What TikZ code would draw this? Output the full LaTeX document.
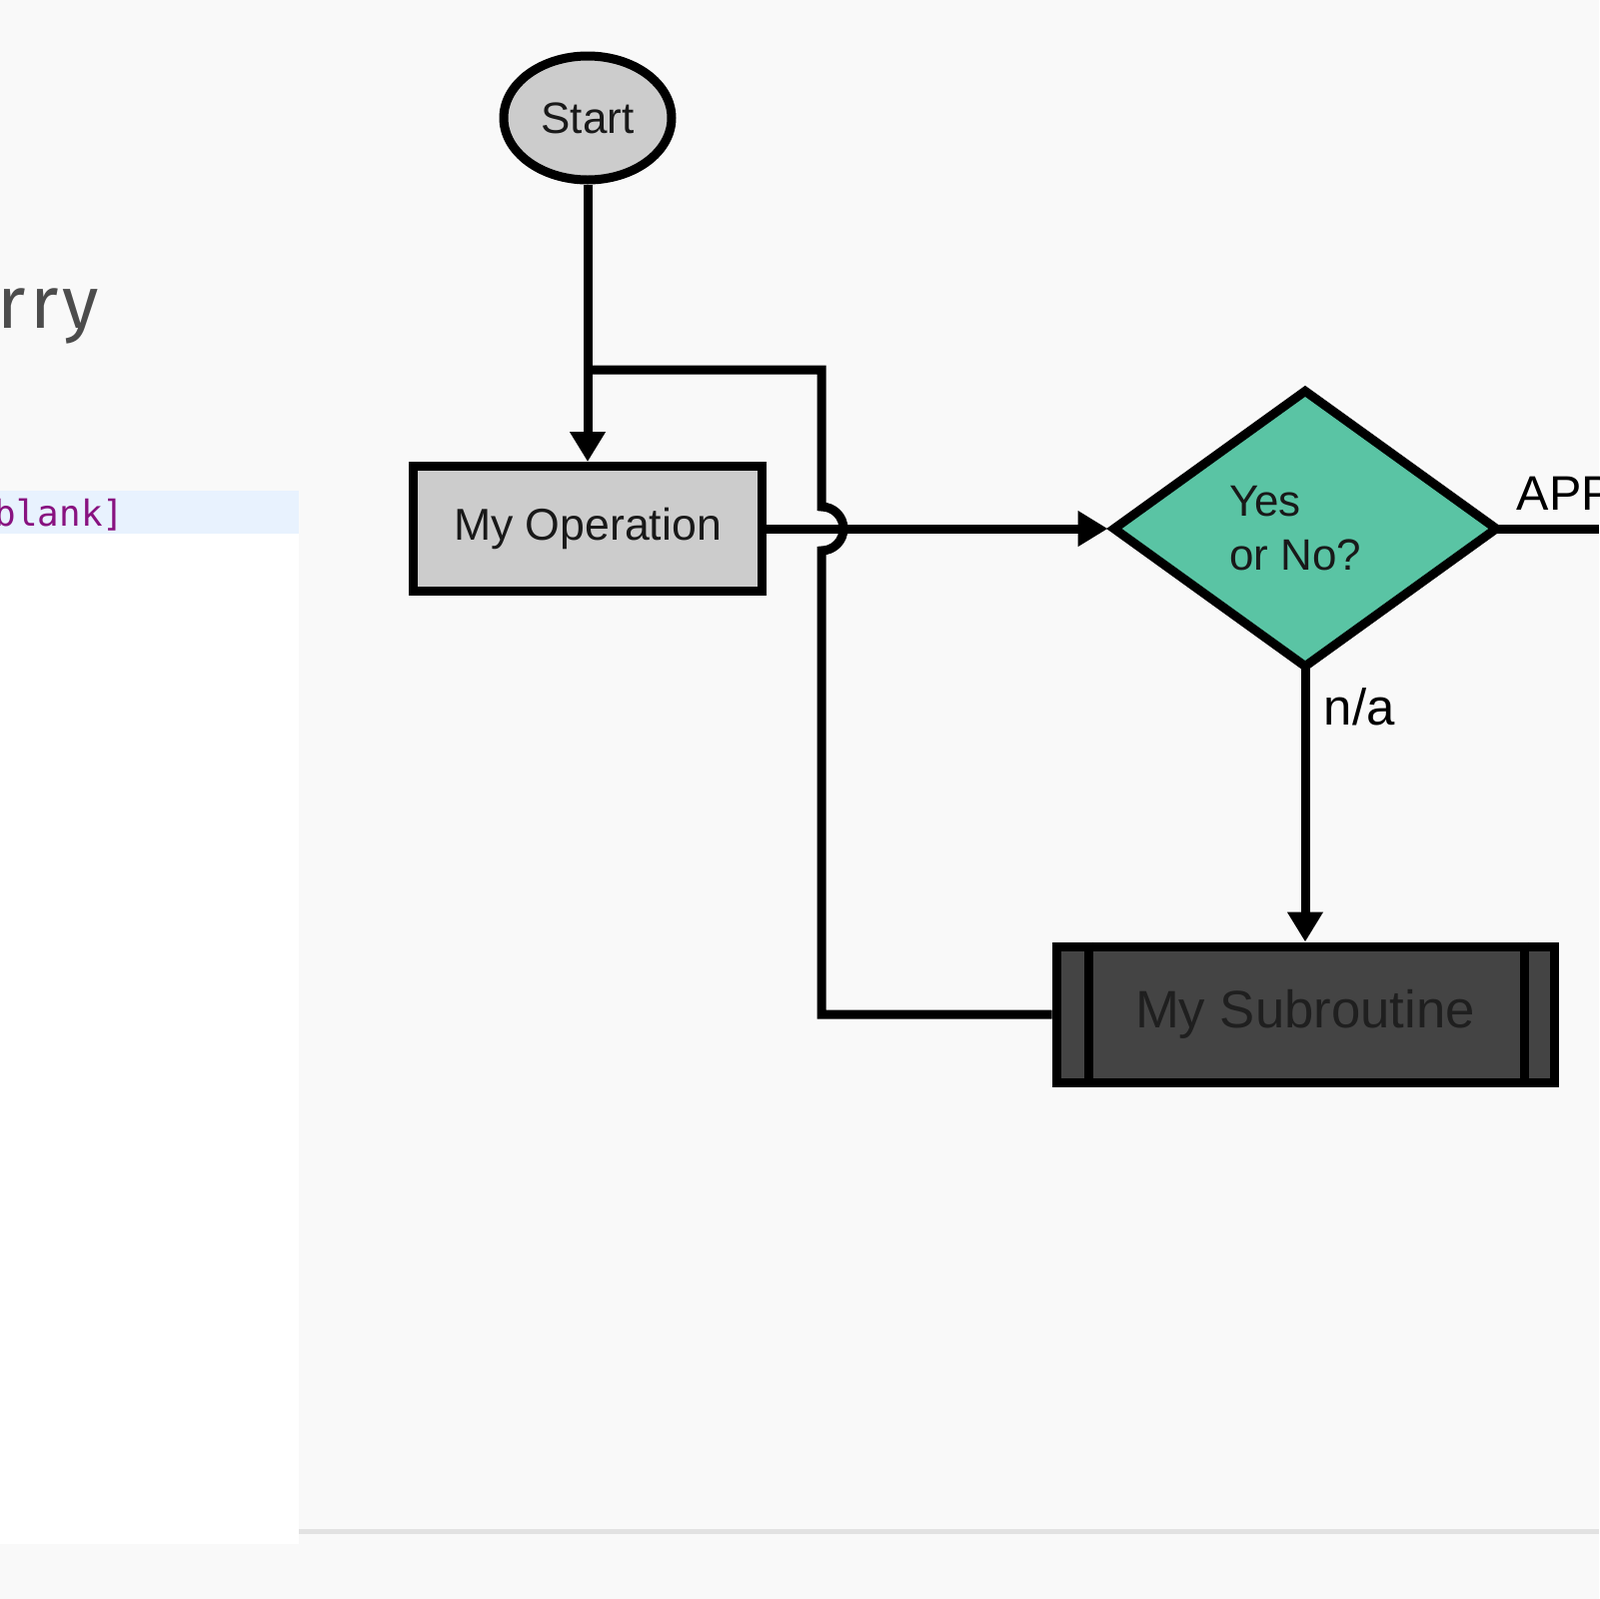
\documentclass[tikz,border=0pt]{standalone}
\usepackage{fontspec}
\setmainfont{Liberation Sans}
\newfontfamily\codefont{DejaVu Sans Mono}
\newfontfamily\notefont[LetterSpace=6]{Fira Sans}
\usetikzlibrary{shapes.geometric,arrows.meta}
\definecolor{pagebg}{HTML}{F9F9F9}
\definecolor{opgray}{HTML}{CCCCCC}
\definecolor{subgray}{HTML}{444444}
\definecolor{decgreen}{RGB}{90,196,164}
\definecolor{codeband}{HTML}{E8F2FE}
\definecolor{codepurple}{HTML}{881280}
\definecolor{rulegray}{HTML}{E2E2E2}

\begin{document}
\begin{tikzpicture}[x=0.1mm, y=-0.1mm,
	flow/.style={draw=black, line width=0.9mm, inner sep=0, text=black!90},
	link/.style={black, line width=0.9mm},
	tip/.style={-{Triangle[length=3mm, width=3.4mm]}}]
	% page behind the chart
	\fill[pagebg] (0,0) rectangle (1600,1600);
	\useasboundingbox (0,0) rectangle (1600,1600);
	\fill[white] (0,491) rectangle (299,1545);
	\fill[codeband] (0,491) rectangle (299,534);
	\fill[rulegray] (299,1530) rectangle (1600,1535);
	\node[anchor=base east, inner sep=0, text=black!70, font=\notefont\fontsize{21}{21}\selectfont] (note) at (100,328) {rry};
	\node[anchor=base east, inner sep=0, text=codepurple, font=\codefont\fontsize{10.2}{11}\selectfont] (code) at (125,526) {blank]};

	% flow chart
	\node[flow, ellipse, fill=opgray, minimum width=16.8mm, minimum height=12.4mm, font=\fontsize{12.5}{14}\selectfont] (start) at (588,118) {Start};
	\node[flow, rectangle, fill=opgray, minimum width=34.9mm, minimum height=12.5mm, font=\fontsize{12.7}{14}\selectfont] (op) at (588,529) {My Operation};
	\node[flow, diamond, fill=decgreen, minimum width=38.6mm, minimum height=27.9mm, align=left, font=\fontsize{12.5}{15.4}\selectfont] (dec) at (1306,529) {Yes\\or No?\hspace*{2mm}};
	\node[flow, rectangle, fill=subgray, minimum width=49.8mm, minimum height=13.6mm, text=black!88, font=\fontsize{15}{17}\selectfont] (sub) at (1306,1015) {My Subroutine};
	\draw[link] ([xshift=3.7mm]sub.north west) -- ([xshift=3.7mm]sub.south west);
	\draw[link] ([xshift=-3.4mm]sub.north east) -- ([xshift=-3.4mm]sub.south east);

	\coordinate (merge) at (588,370);
	\coordinate (jmp) at (822,529);
	\coordinate (out) at (1600,529);

	\draw[link, tip] (start) -- (op);
	\draw[link, tip] (op) -- (dec);
	\draw[link, tip] ([yshift=1.2mm]dec.south) -- (sub);
	\draw[link] ([xshift=-1.2mm]dec.east) -- (out);
	\node[anchor=west, inner sep=0, font=\fontsize{13.8}{15}\selectfont] (app) at (1517,494) {APP};
	\node[anchor=west, inner sep=0, font=\fontsize{14.5}{16}\selectfont] (na) at (1324,707) {n/a};
	\draw[link] (sub.west) -| ([yshift=-2.2mm]jmp) arc[start angle=-90, end angle=90, radius=2.2mm] |- (merge);
\end{tikzpicture}
\end{document}
